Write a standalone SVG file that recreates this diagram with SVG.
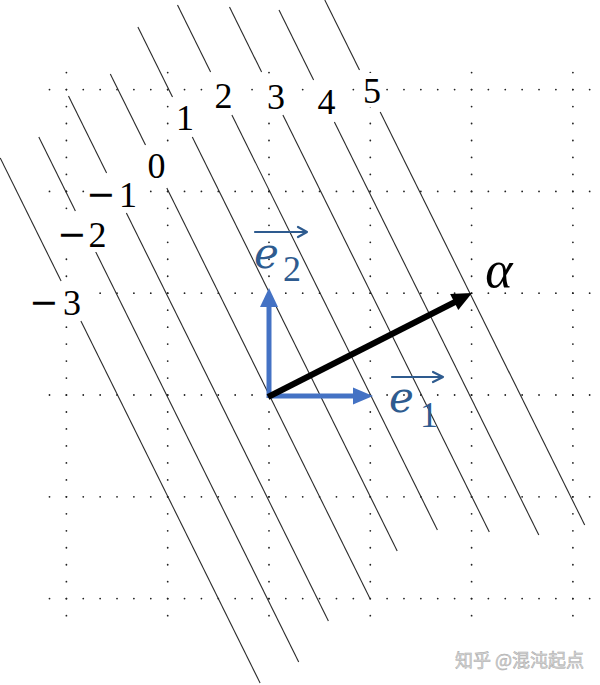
<svg xmlns="http://www.w3.org/2000/svg" width="600" height="685" viewBox="0 0 600 685">
<style>
.hd{stroke:#222;stroke-width:1.8;stroke-linecap:round;stroke-dasharray:0 16.88;fill:none}
.vd{stroke:#222;stroke-width:1.8;stroke-linecap:round;stroke-dasharray:0 16.97;fill:none}
.lv{stroke:#2a2a2a;stroke-width:1.1;fill:none}
.num{font-family:"Liberation Serif",serif;font-size:36px;fill:#000}
.mn{font-family:"DejaVu Sans",sans-serif;font-size:35px}
.bg{fill:#fff}
.ev{font-family:"DejaVu Serif",serif;font-style:italic;font-size:42px;fill:#2E5B8F}
.es{font-family:"Liberation Serif",serif;font-size:36px;fill:#2E5B8F}
.eo{stroke:#2E5B8F;stroke-width:2.2;fill:none;stroke-linecap:round;stroke-linejoin:round}
.wm{font-family:"Noto Sans CJK SC",sans-serif;font-size:18px;fill:#d8d8d8;stroke:#a8a8a8;stroke-width:0.5}
</style>
<rect width="600" height="685" fill="#fff"/>
<g id="grid">
<line class="hd" x1="49.5" y1="89.6" x2="590.5" y2="89.6"/>
<line class="hd" x1="49.5" y1="191.4" x2="590.5" y2="191.4"/>
<line class="hd" x1="49.5" y1="293.2" x2="590.5" y2="293.2"/>
<line class="hd" x1="49.5" y1="395" x2="590.5" y2="395"/>
<line class="hd" x1="49.5" y1="496.8" x2="590.5" y2="496.8"/>
<line class="hd" x1="49.5" y1="598.6" x2="590.5" y2="598.6"/>
<line class="vd" x1="66.4" y1="72.6" x2="66.4" y2="616.5"/>
<line class="vd" x1="167.7" y1="72.6" x2="167.7" y2="616.5"/>
<line class="vd" x1="269" y1="72.6" x2="269" y2="616.5"/>
<line class="vd" x1="370.3" y1="72.6" x2="370.3" y2="616.5"/>
<line class="vd" x1="471.6" y1="72.6" x2="471.6" y2="616.5"/>
<line class="vd" x1="572.9" y1="72.6" x2="572.9" y2="616.5"/>
</g>
<g id="level-lines">
<line class="lv" x1="0.2" y1="158" x2="61.1" y2="281"/>
<line class="lv" x1="80.9" y1="321" x2="260.1" y2="683"/>
<line class="lv" x1="38.8" y1="137" x2="75.4" y2="211"/>
<line class="lv" x1="94.3" y1="249" x2="298.7" y2="662"/>
<line class="lv" x1="68.5" y1="96" x2="106.6" y2="173"/>
<line class="lv" x1="126.4" y1="213" x2="328.4" y2="621"/>
<line class="lv" x1="110.3" y1="74" x2="145.5" y2="145"/>
<line class="lv" x1="166.8" y1="188" x2="369.7" y2="598"/>
<line class="lv" x1="137.9" y1="27" x2="172.5" y2="97"/>
<line class="lv" x1="192.3" y1="137" x2="397.2" y2="551"/>
<line class="lv" x1="177.5" y1="5" x2="210.6" y2="72"/>
<line class="lv" x1="231.9" y1="115" x2="437.4" y2="530"/>
<line class="lv" x1="229.5" y1="7" x2="261.6" y2="72"/>
<line class="lv" x1="282.9" y1="115" x2="489.3" y2="532"/>
<line class="lv" x1="279" y1="10" x2="313.6" y2="80"/>
<line class="lv" x1="334.4" y1="122" x2="538.8" y2="535"/>
<line class="lv" x1="324.8" y1="0" x2="359.5" y2="70"/>
<line class="lv" x1="380.2" y1="112" x2="584.7" y2="525"/>
</g>
<g id="labels">
<rect class="bg" x="30" y="282" width="56" height="38"/>
<rect class="bg" x="58" y="214" width="52" height="38"/>
<rect class="bg" x="86" y="176" width="53" height="36"/>
<rect class="bg" x="144" y="148" width="25" height="34"/>
<rect class="bg" x="174" y="100" width="22" height="34"/>
<rect class="bg" x="212" y="79" width="24" height="33"/>
<rect class="bg" x="264" y="80" width="24" height="33"/>
<rect class="bg" x="314" y="84" width="25" height="34"/>
<rect class="bg" x="360" y="73" width="24" height="34"/>
<text class="num" y="315"><tspan class="mn" x="29" dy="-1">−</tspan><tspan x="72" dy="1" text-anchor="middle">3</tspan></text>
<text class="num" y="247"><tspan class="mn" x="57" dy="-1">−</tspan><tspan x="97.5" dy="1" text-anchor="middle">2</tspan></text>
<text class="num" y="207"><tspan class="mn" x="86" dy="-1">−</tspan><tspan x="128" dy="1" text-anchor="middle">1</tspan></text>
<text class="num" x="156.5" y="178" text-anchor="middle">0</text>
<text class="num" x="185" y="130" text-anchor="middle">1</text>
<text class="num" x="223.5" y="108" text-anchor="middle">2</text>
<text class="num" x="276" y="109" text-anchor="middle">3</text>
<text class="num" x="326.5" y="114" text-anchor="middle">4</text>
<text class="num" x="372" y="103" text-anchor="middle">5</text>
</g>
<g id="vector-e1">
<line x1="269" y1="396" x2="355" y2="396" stroke="#4472C4" stroke-width="5"/>
<polygon points="353,387.5 373,396 353,404.5" fill="#4472C4"/>
<text class="ev" x="389" y="412">e</text>
<text class="es" x="429" y="427" text-anchor="middle">1</text>
<path class="eo" d="M392 377 H443 M433 372 L443 377 L433 382"/>
</g>
<g id="vector-e2">
<line x1="269" y1="398" x2="269" y2="305" stroke="#4472C4" stroke-width="5"/>
<polygon points="260,307 269,288 278,307" fill="#4472C4"/>
<text class="ev" x="254" y="268">e</text>
<text class="es" x="292" y="281" text-anchor="middle">2</text>
<path class="eo" d="M255 232 H307 M298 227 L307 232 L298 237"/>
</g>
<g id="vector-alpha">
<line x1="268" y1="397" x2="455" y2="302" stroke="#000" stroke-width="6"/>
<polygon points="472,293 450.1,294 458.3,310" fill="#000"/>
<text x="499" y="287" font-family="Liberation Serif,serif" font-style="italic" font-size="52" text-anchor="middle">α</text>
</g>
<text class="wm" x="455" y="667">知乎 @混沌起点</text>
</svg>
